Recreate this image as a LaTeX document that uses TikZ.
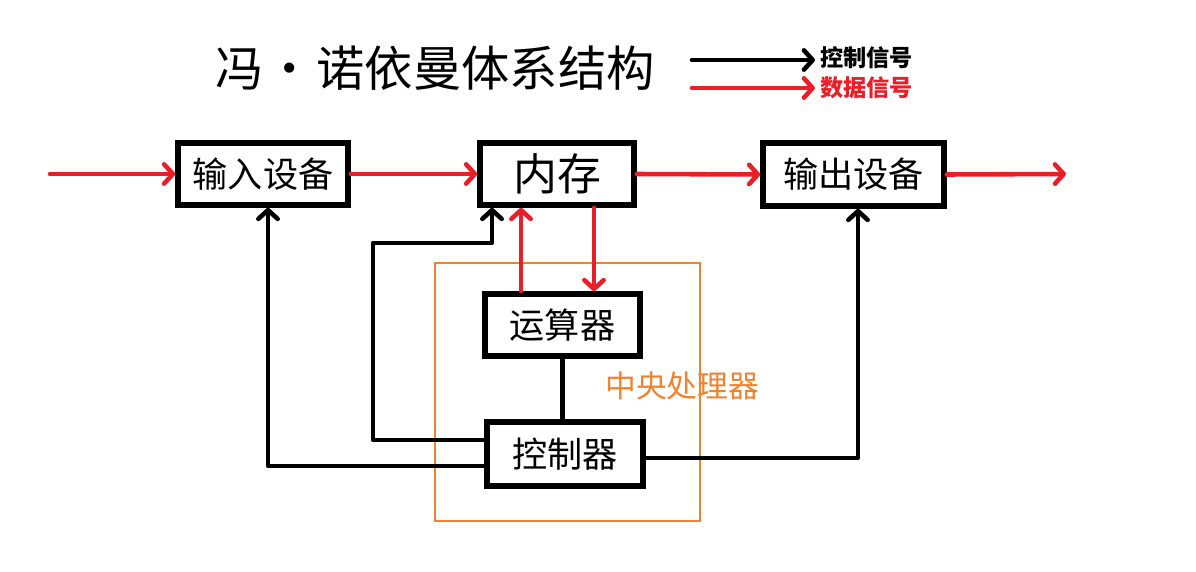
\documentclass[tikz,border=0pt]{standalone}
\usepackage{fontspec}
\setmainfont{Noto Sans CJK SC}
\newfontfamily\cjk{Noto Sans CJK SC}
\usetikzlibrary{arrows.meta}
\definecolor{dred}{RGB}{232,30,40}
\definecolor{corange}{RGB}{240,130,45}
\tikzset{
  box/.style={draw=black, line width=3.2pt, fill=white, inner sep=0pt, font=\cjk\fontsize{20pt}{22pt}\selectfont},
  tip/.style={-{Straight Barb[length=5pt,width=11pt,round]}},
  ctl/.style={draw=black, line width=2.6pt, line cap=round, line join=round},
  data/.style={draw=dred, line width=2.6pt, line cap=round, line join=round},
}
\begin{document}
\begin{tikzpicture}[x=0.02cm,y=-0.02cm]
\useasboundingbox (0,0) rectangle (1196,571);
% CPU frame
\draw[corange, line width=1.4pt] (435,263) rectangle (700,521);
\node[text=corange, font=\cjk\fontsize{17.5pt}{19pt}\selectfont, anchor=west, inner sep=0pt] (cpulbl) at (605,386) {中央处理器};
% title
\node[font=\cjk\fontsize{27.5pt}{30pt}\selectfont] (title) at (435,68) {冯\hspace{0.05em}·\hspace{0.05em}诺依曼体系结构};
% legend
\coordinate (l1s) at (692,60); \coordinate (l1e) at (815,60);
\coordinate (l2s) at (692,88); \coordinate (l2e) at (815,88);
\draw[ctl,tip] (l1s) -- (l1e);
\draw[data,tip] (l2s) -- (l2e);
\node[anchor=west, font=\cjk\bfseries\fontsize{13.2pt}{15pt}\selectfont, inner sep=0pt] (lg1) at (820,58) {控制信号};
\node[anchor=west, font=\cjk\bfseries\fontsize{13.2pt}{15pt}\selectfont, text=dred, inner sep=0pt] (lg2) at (820,88) {数据信号};
% boxes
\node[box, minimum width=3.4cm, minimum height=1.24cm] (in) at (263,174) {输入设备};
\node[box, minimum width=3.08cm, minimum height=1.24cm, font=\cjk\fontsize{25pt}{28pt}\selectfont] (mem) at (557,174) {内存};
\node[box, minimum width=3.62cm, minimum height=1.26cm] (out) at (853.5,174.5) {输出设备};
\node[box, minimum width=3.1cm, minimum height=1.24cm] (alu) at (562.5,325) {运算器};
\node[box, minimum width=3.12cm, minimum height=1.28cm] (cu) at (565,454) {控制器};
% data flow
\coordinate (src) at (50,174);
\coordinate (snk) at (1066,174);
\draw[data,tip] (src) -- (in.west);
\draw[data,tip] (in.east) -- (mem.west);
\draw[data,tip] (mem.east) -- (out.west);
\draw[data,tip] (out.east) -- (snk);
\coordinate (mup) at ([xshift=-0.72cm]mem.south);
\coordinate (mdn) at ([xshift=0.74cm]mem.south);
\draw[data,tip] (alu.north -| mup) -- (mup);
\draw[data,tip] (mdn) -- (alu.north -| mdn);
% control
\coordinate (b1) at (373,243);
\coordinate (mctl) at ([xshift=-1.3cm]mem.south);
\draw[ctl,tip] ([yshift=0.28cm]cu.west) -| (b1) -| (mctl);
\draw[ctl,tip] ([yshift=-0.24cm]cu.west) -| ([xshift=0.1cm]in.south);
\draw[ctl,tip] ([yshift=-0.08cm]cu.east) -| ([xshift=0.09cm]out.south);
\draw[ctl] (alu.south) -- (cu.north -| alu.south);
\end{tikzpicture}
\end{document}
